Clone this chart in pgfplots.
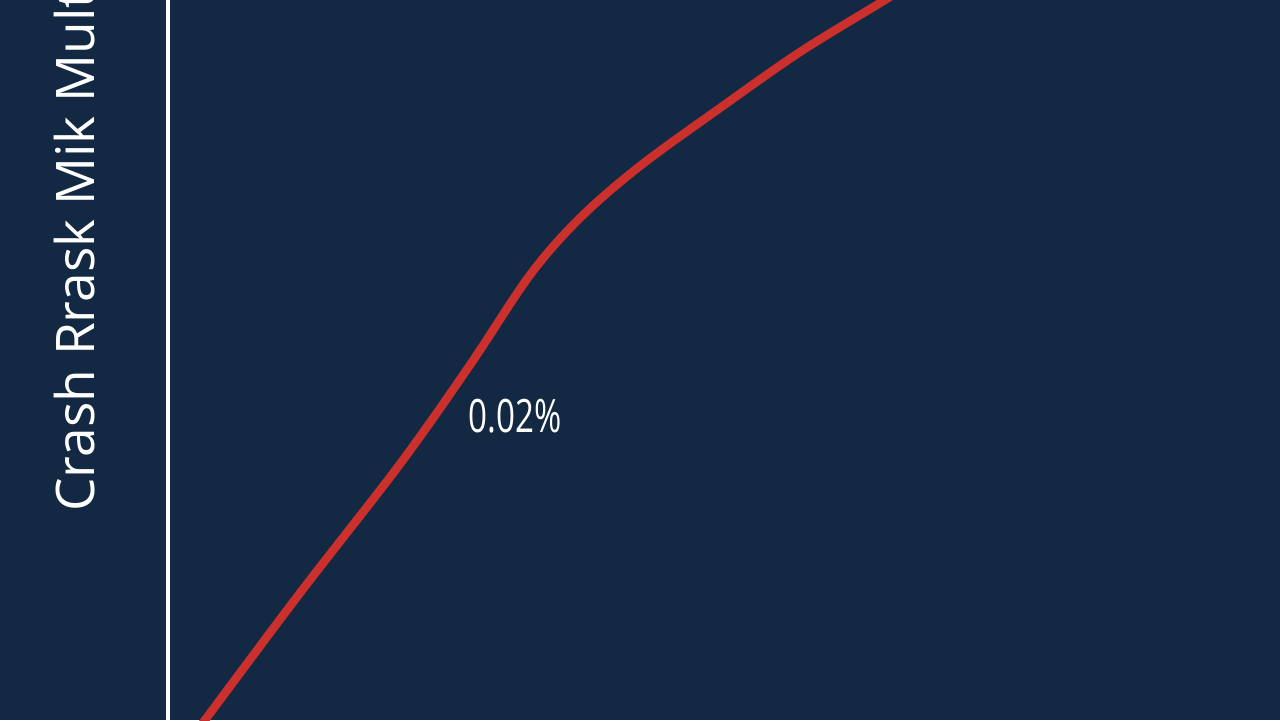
\documentclass[border=0pt]{standalone}
\usepackage{pgfplots}
\pgfplotsset{compat=1.18}
\usepackage{fontspec}
\setmainfont{Open Sans}
\newfontfamily\narrowfont[FakeStretch=0.72]{Open Sans}
\definecolor{bg}{RGB}{19,41,67}
\definecolor{curvered}{RGB}{204,48,44}
\begin{document}
\begin{tikzpicture}
\useasboundingbox (0,0) rectangle (640pt,360pt);
\fill[bg] (0,0) rectangle (640pt,360pt);
\clip (0,0) rectangle (640pt,360pt);
\begin{axis}[
  at={(84pt,0pt)}, anchor=south west,
  width=556pt, height=360pt, scale only axis,
  xmin=168, xmax=1280, ymin=0, ymax=720,
  axis x line=none, axis y line=left,
  y axis line style={-, white, line width=1.6pt},
  xtick=\empty, ytick=\empty,
  ylabel={Crash Rrask Mik Multiplier},
  ylabel style={at={(axis description cs:-0.0665,0.2889)}, anchor=base west, rotate=0,
    inner sep=0pt, text=white, font=\fontsize{26.6pt}{30pt}\selectfont},
]
\addplot[curvered, line width=4.2pt, smooth, tension=0.55] coordinates {
(190,-20) (205,0) (300,127) (400,256) (470,355) (530,445) (580,502) (640,554)
(720,612) (800,668) (880,717) (910,736)
};
\node[anchor=base west, inner sep=0pt, text=white, font=\narrowfont\fontsize{23pt}{26pt}\selectfont] at (axis cs:468,288) {0.02\%};
\end{axis}
\end{tikzpicture}
\end{document}
